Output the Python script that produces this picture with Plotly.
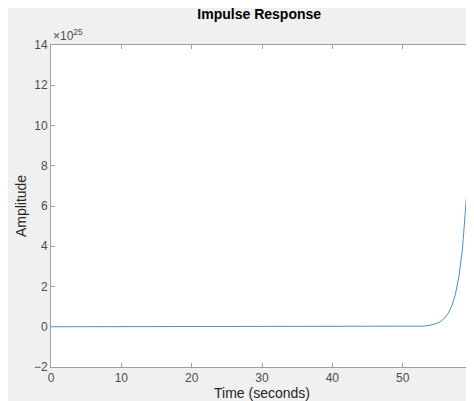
import plotly.graph_objects as go

# time (s) and amplitude (units of 1e25)
t = [0, 10, 20, 30, 40, 45, 50, 52, 53, 54, 55, 55.5, 56, 56.5, 57, 57.5, 58, 58.5, 59, 59.25, 59.5, 59.75, 60]
amp = [0, 0, 0, 0, 0, 0, 0.002, 0.014, 0.03, 0.08, 0.19, 0.29, 0.44, 0.68, 1.05, 1.62, 2.5, 3.85, 5.9, 7.3, 9.1, 11.3, 14]

fig = go.Figure(go.Scatter(x=t, y=amp, mode="lines", line=dict(color="#4a8fc9", width=1)))

ax = dict(showgrid=False, zeroline=False, showline=True, linecolor="#a0a0a0", linewidth=1,
          mirror="ticks", ticks="inside", ticklen=4, tickcolor="#a0a0a0", automargin=False,
          tickfont=dict(family="Arial, Liberation Sans", size=12, color="#4d4d4d"))

fig.update_layout(
    width=474, height=401,
    paper_bgcolor="#f0f0f0", plot_bgcolor="white",
    margin=dict(l=43, r=9, t=37, b=42),
    showlegend=False,
    title=dict(text="<b>Impulse Response</b>", x=0.53, xanchor="center", y=0.998, yanchor="top",
               font=dict(family="Arial, Liberation Sans", size=14, color="black")),
    xaxis=dict(ax, range=[0, 60], dtick=10,
               title=dict(text="Time (seconds)", standoff=2,
                          font=dict(family="Arial, Liberation Sans", size=14, color="#262626"))),
    yaxis=dict(ax, range=[-2, 14], dtick=2,
               title=dict(text="Amplitude", standoff=4,
                          font=dict(family="Arial, Liberation Sans", size=14, color="#262626"))),
    annotations=[dict(text="×10<sup>25</sup>", xref="paper", yref="paper", x=0, y=1, xanchor="left",
                      yanchor="bottom", showarrow=False,
                      font=dict(family="Arial, Liberation Sans", size=12, color="#4d4d4d"))],
)

fig.write_html("out.html")
